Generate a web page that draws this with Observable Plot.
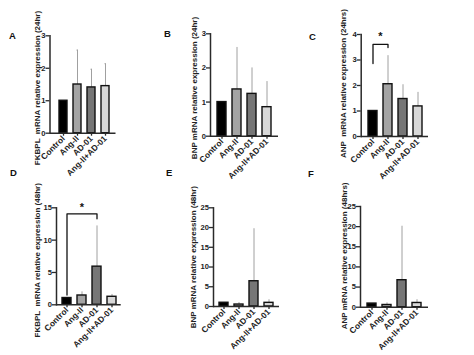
<!DOCTYPE html>
<html>
<head>
<meta charset="utf-8">
<script src="https://cdn.jsdelivr.net/npm/d3@7"></script>
<script src="https://cdn.jsdelivr.net/npm/@observablehq/plot@0.6"></script>
<style>
  html, body { margin: 0; padding: 0; background: #fff; overflow: hidden; }
  #chart { position: relative; width: 474px; height: 355px; overflow: hidden; background: #fff;
           font-family: "Liberation Sans", Arial, sans-serif; }
  #chart svg { position: absolute !important; left: 0; top: 0; background: transparent !important; }
  .letter { position: absolute; font-weight: bold; font-size: 9.5px; color: #111; line-height: 1; }
</style>
</head>
<body>
<div id="chart"></div>
<script>
// ---------- data ----------
const categories = ["Control", "Ang-II", "AD-01", "Ang-II+AD-01"];
const panelLetters = ["A", "B", "C", "D", "E", "F"];
const yTitles = [
  "FKBPL  mRNA relative expression (24hr)",
  "BNP mRNA relative expression (24hr)",
  "ANP  mRNA relative expression (24hrs)",
  "FKBPL  mRNA relative expression (48hr)",
  "BNP mRNA relative expression (48hr)",
  "ANP mRNA relative expression (48hrs)"
];
const yMax = [3, 3, 4, 15, 25, 25];
const yTicks = [
  [0, 1, 2, 3],
  [0, 1, 2, 3],
  [0, 1, 2, 3, 4],
  [0, 5, 10, 15],
  [0, 5, 10, 15, 20, 25],
  [0, 5, 10, 15, 20, 25]
];
// mean values (Control, Ang-II, AD-01, Ang-II+AD-01)
const meanA = [1.0, 1.50, 1.41, 1.45];
const meanB = [1.0, 1.37, 1.24, 0.85];
const meanC = [1.0, 2.05, 1.47, 1.18];
const meanD = [1.05, 1.44, 5.9, 1.24];
const meanE = [0.95, 0.5, 6.4, 0.93];
const meanF = [0.9, 0.55, 6.7, 1.05];
// upper end of error bar (mean + SD); null = no visible bar
const errA = [null, 2.56, 1.97, 2.14];
const errB = [null, 2.60, 2.00, 1.60];
const errC = [null, 3.17, 2.03, 1.73];
const errD = [null, 2.0, 12.2, 1.6];
const errE = [null, 1.0, 19.7, 1.7];
const errF = [null, 1.07, 20.1, 1.85];
// significance brackets: [panel index, from, to, left leg end, top, right leg end, star]
const brackets = [
  [2, "Control", "Ang-II", 2.86, 3.61, 3.49, 3.92],
  [3, "Control", "AD-01", 1.5, 14.07, 13.3, 15.05]
];

const means = [meanA, meanB, meanC, meanD, meanE, meanF];
const errs = [errA, errB, errC, errD, errE, errF];

// ---------- layout (pixel geometry, styles) ----------
const W = 474, H = 355;
const layout = [
  {ml: 49.5, mt: 35.3, zero: 132.7, c0: 62.0, step: 14.8, end: 115.5, tx: 36.5, tdy: 3.5, lx: 9, ly: 31},
  {ml: 210.0, mt: 33.3, zero: 135.7, c0: 220.7, step: 15.6, end: 278, tx: 193.5, tdy: 3, lx: 164, ly: 29},
  {ml: 360.7, mt: 34.0, zero: 136.0, c0: 372.0, step: 15.0, end: 428, tx: 343, tdy: -2, lx: 309, ly: 32},
  {ml: 56.0, mt: 207.3, zero: 304.3, c0: 66.0, step: 15.0, end: 120.7, tx: 37, tdy: 4, lx: 10, ly: 168},
  {ml: 213.0, mt: 207.3, zero: 306.0, c0: 222.7, step: 15.2, end: 279, tx: 192.5, tdy: 0, lx: 166, ly: 168},
  {ml: 360.0, mt: 206.0, zero: 306.7, c0: 371.0, step: 15.4, end: 428, tx: 343.5, tdy: -1, lx: 308, ly: 169}
];
const fills = ["#000000", "#a4a4a4", "#767676", "#d8d8d8"];
const axisColor = "#2a2a2a";
const errColor = "#a0a0a0";
const font = "Liberation Sans, Arial, sans-serif";

const chart = document.getElementById("chart");

means.forEach((m, p) => {
  const L = layout[p];
  const rows = categories.map((c, i) => ({cat: c, mean: m[i], hi: errs[p][i]}));
  const errRows = rows.filter(d => d.hi != null);
  const br = brackets.filter(b => b[0] === p);

  const marks = [
    Plot.ruleX(errRows, {x: "cat", y1: "mean", y2: "hi", stroke: errColor, strokeWidth: 1}),
    Plot.tickY(errRows, {x: "cat", y: "hi", stroke: errColor, strokeWidth: 1, insetLeft: 4.5, insetRight: 4.5}),
    Plot.barY(rows, {x: "cat", y: "mean", fill: "cat", stroke: "#111", strokeWidth: 1.4}),
    Plot.frame({anchor: "left", stroke: axisColor, strokeWidth: 1.5}),
    Plot.ruleY([0], {stroke: axisColor, strokeWidth: 1.5}),
    Plot.axisY({ticks: yTicks[p], tickSize: 4, tickPadding: 0.5, label: null, stroke: axisColor,
      strokeWidth: 1.3, fontSize: 7.6, fontWeight: "bold", fill: "#222", tickFormat: d => String(d)}),
    Plot.axisX({tickRotate: -45, tickSize: 3, tickPadding: 1, label: null, stroke: axisColor,
      strokeWidth: 1.3, fontSize: 8.4, fontWeight: "bold", fill: "#222"}),
    Plot.text([yTitles[p]], {frameAnchor: "left", rotate: -90, dx: L.tx - L.ml, dy: L.tdy,
      fontSize: 8, fontWeight: "bold", fill: "#222", lineAnchor: "middle", textAnchor: "middle"})
  ];

  br.forEach(([, from, to, yl, yt, yr, ys]) => {
    const pts = [{x: from, y: yl}, {x: from, y: yt}, {x: to, y: yt}, {x: to, y: yr}];
    const span = categories.indexOf(to) - categories.indexOf(from);
    marks.push(Plot.line(pts, {x: "x", y: "y", stroke: "#111", strokeWidth: 1.3}));
    marks.push(Plot.text(["*"], {x: [from], y: [ys], dx: span * L.step / 2, fontSize: 11,
      fontWeight: "bold", fill: "#111"}));
  });

  const svg = Plot.plot({
    width: W, height: H,
    marginLeft: L.ml, marginRight: W - L.end,
    marginTop: L.mt, marginBottom: H - L.zero,
    style: {fontFamily: font, background: "transparent", overflow: "visible"},
    x: {type: "band", domain: categories, range: [L.c0 - L.step / 2, L.c0 + 3.5 * L.step],
        paddingInner: 0.42, paddingOuter: 0.21},
    y: {domain: [0, yMax[p]], range: [L.zero, L.mt]},
    color: {domain: categories, range: fills},
    marks
  });
  chart.appendChild(svg);

  const lt = document.createElement("div");
  lt.className = "letter";
  lt.textContent = panelLetters[p];
  lt.style.left = L.lx + "px";
  lt.style.top = L.ly + "px";
  chart.appendChild(lt);
});
</script>
</body>
</html>
